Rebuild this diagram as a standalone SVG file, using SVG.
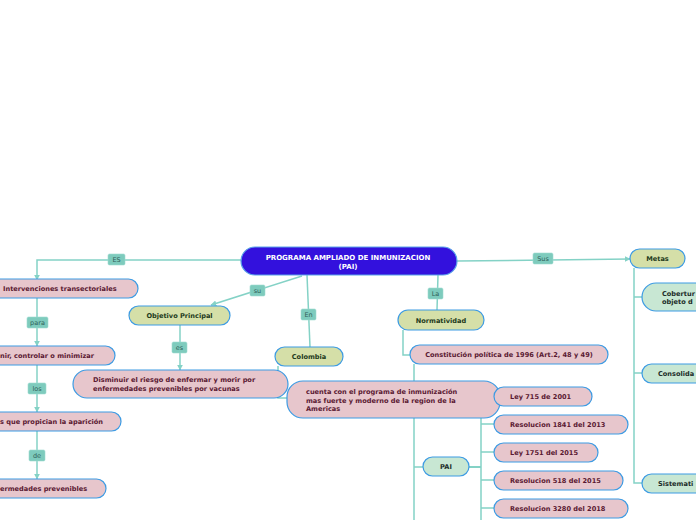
<svg xmlns="http://www.w3.org/2000/svg" width="696" height="520" viewBox="0 0 696 520">
<style>
.c{fill:none;stroke:#84d2c6;stroke-width:1.5}
.lb{fill:#7ecbbd;stroke:#9ddbd0;stroke-width:0.6}
.lt{font-family:"DejaVu Sans",Verdana,sans-serif;font-size:6.5px;fill:#2f5f59;text-anchor:middle}
.n{stroke:#3d9be3;stroke-width:1.2}
.pk{fill:#e7c6cc}
.ol{fill:#d5dfa8}
.gr{fill:#c8e7d3}
.t{font-family:"DejaVu Sans",Verdana,sans-serif;font-size:6.6px;font-weight:bold}
.tp{fill:#5a1932}
.to{fill:#1d3a1b}
.tg{fill:#1c2d29}
.m{text-anchor:middle}
</style>
<defs>
<marker id="a" viewBox="0 0 10 10" refX="9" refY="5" markerWidth="6" markerHeight="6" orient="auto" markerUnits="userSpaceOnUse">
<path d="M0,0 L10,5 L0,10 z" fill="#84d2c6"/>
</marker>
</defs>
<rect width="696" height="520" fill="#ffffff"/>
<g id="connectors">
<path class="c" d="M241,260 L37,260 L37,280" marker-end="url(#a)"/>
<path class="c" d="M37,298 L37,346" marker-end="url(#a)"/>
<path class="c" d="M37,365 L37,412" marker-end="url(#a)"/>
<path class="c" d="M37,431 L37,479" marker-end="url(#a)"/>
<path class="c" d="M302,276 L211,305" marker-end="url(#a)"/>
<path class="c" d="M180,325 L180,370" marker-end="url(#a)"/>
<path class="c" d="M307,275 L310,347"/>
<path class="c" d="M278,366 L278,398 L288,398"/>
<path class="c" d="M438,275 L437,310"/>
<path class="c" d="M403,330 L403,355 L410,355"/>
<path class="c" d="M414,364 L414,520 M414,467 L423,467"/>
<path class="c" style="stroke-width:2" d="M469,467 L481,467"/>
<path class="c" d="M481,396 L481,520 M481,396 L494,396 M481,424 L494,424 M481,452 L494,452 M481,480 L494,480 M481,508 L494,508"/>
<path class="c" d="M457,261 L630,259" marker-end="url(#a)"/>
<path class="c" d="M634,268 L634,483 L642,483 M634,297 L642,297 M634,373 L642,373"/>
<rect class="lb" x="108" y="254" width="17" height="11" rx="1.5"/>
<text class="lt" x="116.5" y="262">ES</text>
<rect class="lb" x="27" y="317" width="21" height="11" rx="1.5"/>
<text class="lt" x="37.5" y="325">para</text>
<rect class="lb" x="28" y="383" width="18" height="11" rx="1.5"/>
<text class="lt" x="37" y="391">los</text>
<rect class="lb" x="29" y="450" width="16" height="11" rx="1.5"/>
<text class="lt" x="37" y="458">de</text>
<rect class="lb" x="250" y="285" width="15" height="11" rx="1.5"/>
<text class="lt" x="257.5" y="293">su</text>
<rect class="lb" x="172" y="342" width="15" height="11" rx="1.5"/>
<text class="lt" x="179.5" y="350">es</text>
<rect class="lb" x="301" y="309" width="15" height="11" rx="1.5"/>
<text class="lt" x="308.5" y="317">En</text>
<rect class="lb" x="428" y="288" width="15" height="11" rx="1.5"/>
<text class="lt" x="435.5" y="296">La</text>
<rect class="lb" x="533" y="253" width="20" height="11" rx="1.5"/>
<text class="lt" x="543" y="261">Sus</text>
</g>
<g id="main">
<rect x="241" y="247" width="216" height="28" rx="14" fill="#3311dd" stroke="#5aa4ea" stroke-width="1.2"/>
<text class="t m" x="348" y="260" fill="#ffffff" style="font-size:7px">PROGRAMA AMPLIADO DE INMUNIZACION</text>
<text class="t m" x="348" y="268.5" fill="#ffffff" style="font-size:7px">(PAI)</text>
</g>
<g id="intervenciones">
<rect class="n pk" x="-20" y="279" width="158" height="19" rx="9.5"/>
<text class="t tp" x="3" y="291">Intervenciones transectoriales</text>
</g>
<g id="prevenir">
<rect class="n pk" x="-20" y="346" width="135" height="19" rx="9.5"/>
<text class="t tp" x="0" y="358">nir, controlar o minimizar</text>
</g>
<g id="propician">
<rect class="n pk" x="-20" y="412" width="141" height="19" rx="9.5"/>
<text class="t tp" x="0" y="424">s que propician la aparición</text>
</g>
<g id="enfermedades">
<rect class="n pk" x="-20" y="479" width="126" height="19" rx="9.5"/>
<text class="t tp" x="0" y="491">ermedades prevenibles</text>
</g>
<g id="objetivo">
<rect class="n ol" x="129" y="306" width="101" height="19" rx="9.5"/>
<text class="t to m" x="179.5" y="318">Objetivo Principal</text>
</g>
<g id="disminuir">
<rect class="n pk" x="73" y="370" width="215" height="28" rx="14"/>
<text class="t tp" x="93" y="382">Disminuir el riesgo de enfermar y morir por</text>
<text class="t tp" x="93" y="391">enfermedades prevenibles por vacunas</text>
</g>
<g id="colombia">
<rect class="n ol" x="275" y="347" width="68" height="19" rx="9.5"/>
<text class="t to m" x="309" y="359">Colombia</text>
</g>
<g id="cuenta">
<rect class="n pk" x="287" y="381" width="213" height="37" rx="16"/>
<text class="t tp" x="306" y="394">cuenta con el programa de inmunización</text>
<text class="t tp" x="306" y="402.5">mas fuerte y moderno de la region de la</text>
<text class="t tp" x="306" y="411">Americas</text>
</g>
<g id="normatividad">
<rect class="n ol" x="398" y="310" width="86" height="20" rx="10"/>
<text class="t to m" x="441" y="322.5">Normatividad</text>
</g>
<g id="constitucion">
<rect class="n pk" x="410" y="345" width="198" height="19" rx="9.5"/>
<text class="t tp m" x="509" y="357">Constitución política de 1996 (Art.2, 48 y 49)</text>
</g>
<g id="pai">
<rect class="n gr" x="423" y="457" width="46" height="19" rx="9.5"/>
<text class="t tg m" x="446" y="469">PAI</text>
</g>
<g id="ley715">
<rect class="n pk" x="494" y="387" width="98" height="19" rx="9.5"/>
<text class="t tp" x="510" y="399">Ley 715 de 2001</text>
</g>
<g id="res1841">
<rect class="n pk" x="494" y="415" width="134" height="19" rx="9.5"/>
<text class="t tp" x="510" y="427">Resolucion 1841 del 2013</text>
</g>
<g id="ley1751">
<rect class="n pk" x="494" y="443" width="104" height="19" rx="9.5"/>
<text class="t tp" x="510" y="455">Ley 1751 del 2015</text>
</g>
<g id="res518">
<rect class="n pk" x="494" y="471" width="129" height="19" rx="9.5"/>
<text class="t tp" x="510" y="483">Resolucion 518 del 2015</text>
</g>
<g id="res3280">
<rect class="n pk" x="494" y="499" width="134" height="19" rx="9.5"/>
<text class="t tp" x="510" y="511">Resolucion 3280 del 2018</text>
</g>
<g id="metas">
<rect class="n ol" x="630" y="249" width="55" height="19" rx="9.5"/>
<text class="t to m" x="657.5" y="261">Metas</text>
</g>
<g id="cobertura">
<rect class="n gr" x="642" y="283" width="80" height="28" rx="14"/>
<text class="t tg" x="662" y="296">Cobertur</text>
<text class="t tg" x="662" y="304">objeto d</text>
</g>
<g id="consolidar">
<rect class="n gr" x="642" y="364" width="80" height="19" rx="9.5"/>
<text class="t tg" x="658" y="376">Consolida</text>
</g>
<g id="sistematizar">
<rect class="n gr" x="642" y="474" width="80" height="19" rx="9.5"/>
<text class="t tg" x="658" y="486">Sistemati</text>
</g>
</svg>
